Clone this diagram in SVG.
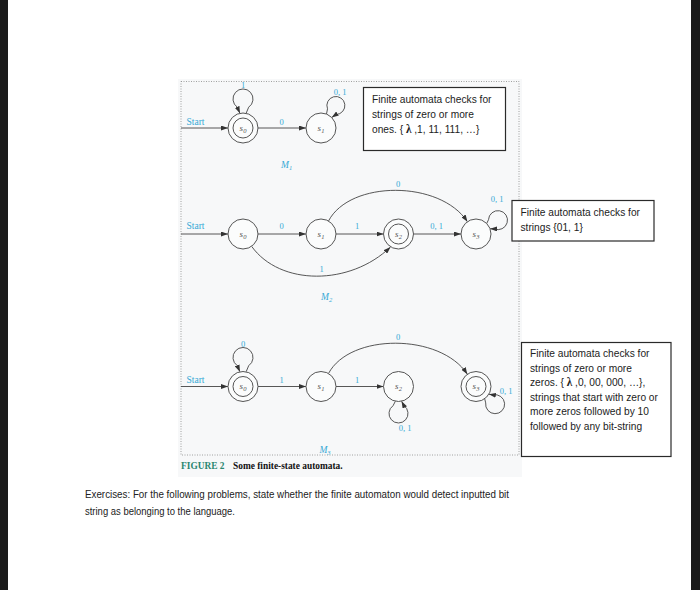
<svg xmlns="http://www.w3.org/2000/svg" width="700" height="590" viewBox="0 0 700 590">
<defs>
<style>
.bar{fill:#1b1b1b}
.st{fill:#fbfcfc;stroke:#555;stroke-width:1}
.edge{fill:none;stroke:#444;stroke-width:0.9}
.arr{marker-end:url(#ah)}
.lbl{font-family:"Liberation Serif",serif;font-size:8.5px;fill:#35a9d6;text-anchor:middle}
.start{font-family:"Liberation Serif",serif;font-size:9.5px;fill:#35a9d6}
.sn{font-family:"Liberation Serif",serif;font-style:italic;font-size:9px;fill:#555;text-anchor:middle}
.mlab{font-family:"Liberation Serif",serif;font-style:italic;font-size:9.5px;fill:#35a9d6;text-anchor:middle}
.box{fill:#fff;stroke:#2a2a2a;stroke-width:1.2}
.bt{font-family:"Liberation Sans",Arial,sans-serif;font-size:11px;fill:#222}
.lam{font-family:"Liberation Serif",serif;font-weight:bold;font-size:12px}
.ex{font-family:"Liberation Sans",Arial,sans-serif;font-size:11.2px;fill:#222}
</style>
<marker id="ah" markerUnits="userSpaceOnUse" viewBox="0 0 7 5" refX="7" refY="2.5" markerWidth="7" markerHeight="5" orient="auto"><path d="M0,0 L7,2.5 L0,5 z" fill="#333"/></marker>
</defs>
<rect width="700" height="590" fill="#fff"/>
<rect class="bar" x="0" y="0" width="8" height="590"/>
<rect class="bar" x="691" y="0" width="9" height="590"/>
<rect x="178" y="79" width="344" height="398" fill="#f7f8f9"/>
<rect x="181" y="81.5" width="338" height="373.5" fill="none" stroke="#8a8a8a" stroke-width="0.8" stroke-dasharray="1 1.5"/>

<g id="connectors">
  <!-- M1 -->
  <path class="edge arr" d="M181,128 L228,128"/>
  <path class="edge arr" d="M258,128 L306,128"/>
  <path class="edge arr" d="M246.1,113.3 L248.7,107.2 A10,10 0 1 0 237.3,107.2 L239.9,113.3"/>
  <path class="edge arr" d="M326.5,114 L327.5,108.8 A9,9 0 1 1 336.1,114.5 L331.7,117.5"/>
  <!-- M2 -->
  <path class="edge arr" d="M181,234 L228,234"/>
  <path class="edge arr" d="M258,234 L306,234"/>
  <path class="edge arr" d="M336,234 L383.5,234"/>
  <path class="edge arr" d="M413.5,234 L461,234"/>
  <path class="edge arr" d="M328.5,221 C350,180 440,180 467.4,221.7"/>
  <path class="edge arr" d="M251.6,246.3 C280,286 350,286 390.5,247"/>
  <path class="edge arr" d="M486.7,223.5 L488.5,219.7 A9.5,9.5 0 1 1 494.3,228.9 L490.1,228.8"/>
  <!-- M3 -->
  <path class="edge arr" d="M181,386.5 L228,386.5"/>
  <path class="edge arr" d="M258,386.5 L306,386.5"/>
  <path class="edge arr" d="M336,386.5 L383.5,386.5"/>
  <path class="edge arr" d="M328.5,373.5 C350,333 440,333 467.4,374.2"/>
  <path class="edge arr" d="M246.1,371.8 L248.7,365.7 A10,10 0 1 0 237.3,365.7 L239.9,371.8"/>
  <path class="edge arr" d="M395.4,401.2 L393.05,405.7 A9.5,9.5 0 1 0 403.95,405.7 L401.6,401.2"/>
  <path class="edge arr" d="M484.7,398.8 L485.7,402.9 A9.5,9.5 0 1 0 493.1,394.9 L488.9,394.2"/>
</g>

<g id="edge-labels">
  <text class="start" x="186.5" y="125">Start</text>
  <text class="lbl" x="243" y="88">1</text>
  <text class="lbl" x="281.7" y="125">0</text>
  <text class="lbl" x="340" y="94.5">0, 1</text>
  <text class="mlab" x="286.7" y="168">M<tspan font-size="6.5" dy="2">1</tspan></text>

  <text class="start" x="186.5" y="229">Start</text>
  <text class="lbl" x="281.7" y="229">0</text>
  <text class="lbl" x="357" y="229">1</text>
  <text class="lbl" x="436.7" y="229">0, 1</text>
  <text class="lbl" x="398" y="186.5">0</text>
  <text class="lbl" x="321.7" y="272">1</text>
  <text class="lbl" x="497" y="202">0, 1</text>
  <text class="mlab" x="326.7" y="300">M<tspan font-size="6.5" dy="2">2</tspan></text>

  <text class="start" x="186.5" y="383">Start</text>
  <text class="lbl" x="243" y="347">0</text>
  <text class="lbl" x="281.7" y="383">1</text>
  <text class="lbl" x="357" y="383">1</text>
  <text class="lbl" x="398" y="339.5">0</text>
  <text class="lbl" x="405" y="431">0, 1</text>
  <text class="lbl" x="506" y="394" text-anchor="start">0, 1</text>
  <text class="mlab" x="325" y="453">M<tspan font-size="6.5" dy="2">3</tspan></text>
</g>

<g id="m1-s0"><circle class="st" cx="243" cy="128" r="15"/><circle class="st" cx="243" cy="128" r="10"/><text class="sn" x="243" y="130.5">s<tspan font-size="6.5" dy="2">0</tspan></text></g>
<g id="m1-s1"><circle class="st" cx="321" cy="128" r="15"/><text class="sn" x="321" y="130.5">s<tspan font-size="6.5" dy="2">1</tspan></text></g>

<g id="m2-s0"><circle class="st" cx="243" cy="234" r="15"/><text class="sn" x="243" y="236.5">s<tspan font-size="6.5" dy="2">0</tspan></text></g>
<g id="m2-s1"><circle class="st" cx="321" cy="234" r="15"/><text class="sn" x="321" y="236.5">s<tspan font-size="6.5" dy="2">1</tspan></text></g>
<g id="m2-s2"><circle class="st" cx="398.5" cy="234" r="15"/><circle class="st" cx="398.5" cy="234" r="10"/><text class="sn" x="398.5" y="236.5">s<tspan font-size="6.5" dy="2">2</tspan></text></g>
<g id="m2-s3"><circle class="st" cx="476" cy="234" r="15"/><text class="sn" x="476" y="236.5">s<tspan font-size="6.5" dy="2">3</tspan></text></g>

<g id="m3-s0"><circle class="st" cx="243" cy="386.5" r="15"/><circle class="st" cx="243" cy="386.5" r="10"/><text class="sn" x="243" y="389">s<tspan font-size="6.5" dy="2">0</tspan></text></g>
<g id="m3-s1"><circle class="st" cx="321" cy="386.5" r="15"/><text class="sn" x="321" y="389">s<tspan font-size="6.5" dy="2">1</tspan></text></g>
<g id="m3-s2"><circle class="st" cx="398.5" cy="386.5" r="15"/><text class="sn" x="398.5" y="389">s<tspan font-size="6.5" dy="2">2</tspan></text></g>
<g id="m3-s3"><circle class="st" cx="476" cy="386.5" r="15"/><circle class="st" cx="476" cy="386.5" r="10"/><text class="sn" x="476" y="389">s<tspan font-size="6.5" dy="2">3</tspan></text></g>

<g id="caption">
  <text x="181" y="469" font-family="'Liberation Serif',serif" font-weight="bold" font-size="9.4" fill="#2a8670">FIGURE 2</text>
  <text x="233" y="469" font-family="'Liberation Serif',serif" font-weight="bold" font-size="9.4" fill="#111">Some finite-state automata.</text>
</g>

<g id="note1">
  <rect class="box" x="363.5" y="87.5" width="142" height="63"/>
  <g transform="translate(372,0) scale(0.927,1)">
    <text class="bt" x="0" y="103">Finite automata checks for</text>
    <text class="bt" x="0" y="118">strings of zero or more</text>
    <text class="bt" x="0" y="133">ones. { <tspan class="lam">λ</tspan> ,1, 11, 111, …}</text>
  </g>
</g>
<g id="note2">
  <rect class="box" x="512" y="200.5" width="142" height="40.5"/>
  <g transform="translate(520.5,0) scale(0.927,1)">
    <text class="bt" x="0" y="216.5">Finite automata checks for</text>
    <text class="bt" x="0" y="231">strings  {01, 1}</text>
  </g>
</g>
<g id="note3">
  <rect class="box" x="521.5" y="342.5" width="149.5" height="114"/>
  <g transform="translate(530,0) scale(0.927,1)">
    <text class="bt" x="0" y="357.5">Finite automata checks for</text>
    <text class="bt" x="0" y="372">strings of zero or more</text>
    <text class="bt" x="0" y="386.5">zeros. { <tspan class="lam">λ</tspan> ,0, 00, 000, …},</text>
    <text class="bt" x="0" y="401">strings that start with zero or</text>
    <text class="bt" x="0" y="415.5">more zeros followed by 10</text>
    <text class="bt" x="0" y="430">followed by any bit-string</text>
  </g>
</g>

<g id="exercises">
  <text class="ex" x="85" y="498" textLength="424" lengthAdjust="spacingAndGlyphs">Exercises: For the following problems, state whether the finite automaton would detect inputted bit</text>
  <text class="ex" x="85" y="514.5" textLength="150" lengthAdjust="spacingAndGlyphs">string as belonging to the language.</text>
</g>
</svg>
